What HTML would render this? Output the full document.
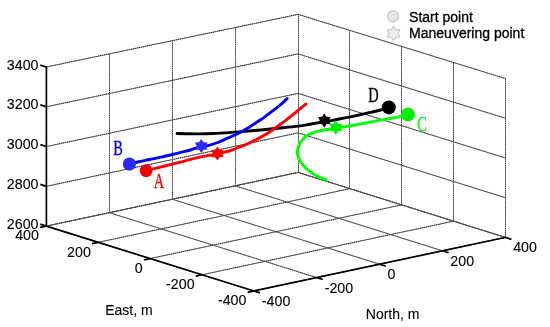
<!DOCTYPE html>
<html><head><meta charset="utf-8"><title>3D trajectories</title>
<style>html,body{margin:0;padding:0;background:#fff;}body{width:550px;height:327px;overflow:hidden;}svg{display:block;}</style>
</head><body>
<svg width="550" height="327" viewBox="0 0 550 327" font-family="Liberation Sans, Arial, sans-serif" font-size="15">
<rect width="550" height="327" fill="#fff"/>
<line x1="46.40" y1="226.10" x2="298.10" y2="172.40" stroke="#7a7a7a" stroke-width="0.9" fill="none"/>
<line x1="46.40" y1="226.10" x2="298.10" y2="172.40" stroke="#1e1e1e" stroke-width="0.9" stroke-dasharray="1.2 0.9" fill="none"/>
<line x1="46.40" y1="226.10" x2="253.90" y2="291.00" stroke="#7a7a7a" stroke-width="0.9" fill="none"/>
<line x1="46.40" y1="226.10" x2="253.90" y2="291.00" stroke="#1e1e1e" stroke-width="0.9" stroke-dasharray="1.2 0.9" fill="none"/>
<line x1="98.28" y1="242.32" x2="349.90" y2="188.65" stroke="#7a7a7a" stroke-width="0.9" fill="none"/>
<line x1="98.28" y1="242.32" x2="349.90" y2="188.65" stroke="#1e1e1e" stroke-width="0.9" stroke-dasharray="1.2 0.9" fill="none"/>
<line x1="109.33" y1="212.67" x2="316.75" y2="277.60" stroke="#7a7a7a" stroke-width="0.9" fill="none"/>
<line x1="109.33" y1="212.67" x2="316.75" y2="277.60" stroke="#1e1e1e" stroke-width="0.9" stroke-dasharray="1.2 0.9" fill="none"/>
<line x1="150.15" y1="258.55" x2="401.70" y2="204.90" stroke="#7a7a7a" stroke-width="0.9" fill="none"/>
<line x1="150.15" y1="258.55" x2="401.70" y2="204.90" stroke="#1e1e1e" stroke-width="0.9" stroke-dasharray="1.2 0.9" fill="none"/>
<line x1="172.25" y1="199.25" x2="379.60" y2="264.20" stroke="#7a7a7a" stroke-width="0.9" fill="none"/>
<line x1="172.25" y1="199.25" x2="379.60" y2="264.20" stroke="#1e1e1e" stroke-width="0.9" stroke-dasharray="1.2 0.9" fill="none"/>
<line x1="202.03" y1="274.77" x2="453.50" y2="221.15" stroke="#7a7a7a" stroke-width="0.9" fill="none"/>
<line x1="202.03" y1="274.77" x2="453.50" y2="221.15" stroke="#1e1e1e" stroke-width="0.9" stroke-dasharray="1.2 0.9" fill="none"/>
<line x1="235.18" y1="185.83" x2="442.45" y2="250.80" stroke="#7a7a7a" stroke-width="0.9" fill="none"/>
<line x1="235.18" y1="185.83" x2="442.45" y2="250.80" stroke="#1e1e1e" stroke-width="0.9" stroke-dasharray="1.2 0.9" fill="none"/>
<line x1="253.90" y1="291.00" x2="505.30" y2="237.40" stroke="#7a7a7a" stroke-width="0.9" fill="none"/>
<line x1="253.90" y1="291.00" x2="505.30" y2="237.40" stroke="#1e1e1e" stroke-width="0.9" stroke-dasharray="1.2 0.9" fill="none"/>
<line x1="298.10" y1="172.40" x2="505.30" y2="237.40" stroke="#7a7a7a" stroke-width="0.9" fill="none"/>
<line x1="298.10" y1="172.40" x2="505.30" y2="237.40" stroke="#1e1e1e" stroke-width="0.9" stroke-dasharray="1.2 0.9" fill="none"/>
<line x1="46.50" y1="226.10" x2="46.50" y2="67.00" stroke="#9a9a9a" stroke-width="1" fill="none"/>
<line x1="46.50" y1="226.10" x2="46.50" y2="67.00" stroke="#333" stroke-width="1" stroke-dasharray="1 1.1" fill="none"/>
<line x1="46.40" y1="226.10" x2="298.10" y2="172.40" stroke="#7a7a7a" stroke-width="0.9" fill="none"/>
<line x1="46.40" y1="226.10" x2="298.10" y2="172.40" stroke="#1e1e1e" stroke-width="0.9" stroke-dasharray="1.2 0.9" fill="none"/>
<line x1="109.50" y1="212.67" x2="109.50" y2="53.85" stroke="#9a9a9a" stroke-width="1" fill="none"/>
<line x1="109.50" y1="212.67" x2="109.50" y2="53.85" stroke="#333" stroke-width="1" stroke-dasharray="1 1.1" fill="none"/>
<line x1="46.40" y1="186.32" x2="298.10" y2="132.90" stroke="#7a7a7a" stroke-width="0.9" fill="none"/>
<line x1="46.40" y1="186.32" x2="298.10" y2="132.90" stroke="#1e1e1e" stroke-width="0.9" stroke-dasharray="1.2 0.9" fill="none"/>
<line x1="172.50" y1="199.25" x2="172.50" y2="40.70" stroke="#9a9a9a" stroke-width="1" fill="none"/>
<line x1="172.50" y1="199.25" x2="172.50" y2="40.70" stroke="#333" stroke-width="1" stroke-dasharray="1 1.1" fill="none"/>
<line x1="46.40" y1="146.55" x2="298.10" y2="93.40" stroke="#7a7a7a" stroke-width="0.9" fill="none"/>
<line x1="46.40" y1="146.55" x2="298.10" y2="93.40" stroke="#1e1e1e" stroke-width="0.9" stroke-dasharray="1.2 0.9" fill="none"/>
<line x1="235.50" y1="185.83" x2="235.50" y2="27.55" stroke="#9a9a9a" stroke-width="1" fill="none"/>
<line x1="235.50" y1="185.83" x2="235.50" y2="27.55" stroke="#333" stroke-width="1" stroke-dasharray="1 1.1" fill="none"/>
<line x1="46.40" y1="106.78" x2="298.10" y2="53.90" stroke="#7a7a7a" stroke-width="0.9" fill="none"/>
<line x1="46.40" y1="106.78" x2="298.10" y2="53.90" stroke="#1e1e1e" stroke-width="0.9" stroke-dasharray="1.2 0.9" fill="none"/>
<line x1="298.50" y1="172.40" x2="298.50" y2="14.40" stroke="#9a9a9a" stroke-width="1" fill="none"/>
<line x1="298.50" y1="172.40" x2="298.50" y2="14.40" stroke="#333" stroke-width="1" stroke-dasharray="1 1.1" fill="none"/>
<line x1="46.40" y1="67.00" x2="298.10" y2="14.40" stroke="#7a7a7a" stroke-width="0.9" fill="none"/>
<line x1="46.40" y1="67.00" x2="298.10" y2="14.40" stroke="#1e1e1e" stroke-width="0.9" stroke-dasharray="1.2 0.9" fill="none"/>
<line x1="298.50" y1="172.40" x2="298.50" y2="14.40" stroke="#9a9a9a" stroke-width="1" fill="none"/>
<line x1="298.50" y1="172.40" x2="298.50" y2="14.40" stroke="#333" stroke-width="1" stroke-dasharray="1 1.1" fill="none"/>
<line x1="298.10" y1="172.40" x2="505.30" y2="237.40" stroke="#7a7a7a" stroke-width="0.9" fill="none"/>
<line x1="298.10" y1="172.40" x2="505.30" y2="237.40" stroke="#1e1e1e" stroke-width="0.9" stroke-dasharray="1.2 0.9" fill="none"/>
<line x1="349.50" y1="188.65" x2="349.50" y2="30.43" stroke="#9a9a9a" stroke-width="1" fill="none"/>
<line x1="349.50" y1="188.65" x2="349.50" y2="30.43" stroke="#333" stroke-width="1" stroke-dasharray="1 1.1" fill="none"/>
<line x1="298.10" y1="132.90" x2="505.30" y2="197.68" stroke="#7a7a7a" stroke-width="0.9" fill="none"/>
<line x1="298.10" y1="132.90" x2="505.30" y2="197.68" stroke="#1e1e1e" stroke-width="0.9" stroke-dasharray="1.2 0.9" fill="none"/>
<line x1="401.50" y1="204.90" x2="401.50" y2="46.45" stroke="#9a9a9a" stroke-width="1" fill="none"/>
<line x1="401.50" y1="204.90" x2="401.50" y2="46.45" stroke="#333" stroke-width="1" stroke-dasharray="1 1.1" fill="none"/>
<line x1="298.10" y1="93.40" x2="505.30" y2="157.95" stroke="#7a7a7a" stroke-width="0.9" fill="none"/>
<line x1="298.10" y1="93.40" x2="505.30" y2="157.95" stroke="#1e1e1e" stroke-width="0.9" stroke-dasharray="1.2 0.9" fill="none"/>
<line x1="453.50" y1="221.15" x2="453.50" y2="62.48" stroke="#9a9a9a" stroke-width="1" fill="none"/>
<line x1="453.50" y1="221.15" x2="453.50" y2="62.48" stroke="#333" stroke-width="1" stroke-dasharray="1 1.1" fill="none"/>
<line x1="298.10" y1="53.90" x2="505.30" y2="118.22" stroke="#7a7a7a" stroke-width="0.9" fill="none"/>
<line x1="298.10" y1="53.90" x2="505.30" y2="118.22" stroke="#1e1e1e" stroke-width="0.9" stroke-dasharray="1.2 0.9" fill="none"/>
<line x1="505.50" y1="237.40" x2="505.50" y2="78.50" stroke="#9a9a9a" stroke-width="1" fill="none"/>
<line x1="505.50" y1="237.40" x2="505.50" y2="78.50" stroke="#333" stroke-width="1" stroke-dasharray="1 1.1" fill="none"/>
<line x1="298.10" y1="14.40" x2="505.30" y2="78.50" stroke="#7a7a7a" stroke-width="0.9" fill="none"/>
<line x1="298.10" y1="14.40" x2="505.30" y2="78.50" stroke="#1e1e1e" stroke-width="0.9" stroke-dasharray="1.2 0.9" fill="none"/>
<line x1="46.40" y1="226.10" x2="46.40" y2="67.00" stroke="#000" stroke-width="1.7" fill="none" stroke-linecap="square"/>
<line x1="46.40" y1="226.10" x2="253.90" y2="291.00" stroke="#000" stroke-width="1.7" fill="none" stroke-linecap="square"/>
<line x1="253.90" y1="291.00" x2="505.30" y2="237.40" stroke="#000" stroke-width="1.7" fill="none" stroke-linecap="square"/>
<line x1="46.40" y1="226.10" x2="40.29" y2="224.18" stroke="#000" stroke-width="1.7"/>
<line x1="46.40" y1="186.32" x2="40.29" y2="184.41" stroke="#000" stroke-width="1.7"/>
<line x1="46.40" y1="146.55" x2="40.29" y2="144.63" stroke="#000" stroke-width="1.7"/>
<line x1="46.40" y1="106.78" x2="40.29" y2="104.86" stroke="#000" stroke-width="1.7"/>
<line x1="46.40" y1="67.00" x2="40.29" y2="65.08" stroke="#000" stroke-width="1.7"/>
<line x1="46.40" y1="226.10" x2="40.14" y2="227.42" stroke="#000" stroke-width="1.7"/>
<line x1="98.28" y1="242.32" x2="92.01" y2="243.64" stroke="#000" stroke-width="1.7"/>
<line x1="150.15" y1="258.55" x2="143.89" y2="259.87" stroke="#000" stroke-width="1.7"/>
<line x1="202.03" y1="274.77" x2="195.76" y2="276.09" stroke="#000" stroke-width="1.7"/>
<line x1="253.90" y1="291.00" x2="247.64" y2="292.32" stroke="#000" stroke-width="1.7"/>
<line x1="253.90" y1="291.00" x2="260.01" y2="292.92" stroke="#000" stroke-width="1.7"/>
<line x1="316.75" y1="277.60" x2="322.86" y2="279.52" stroke="#000" stroke-width="1.7"/>
<line x1="379.60" y1="264.20" x2="385.71" y2="266.12" stroke="#000" stroke-width="1.7"/>
<line x1="442.45" y1="250.80" x2="448.56" y2="252.72" stroke="#000" stroke-width="1.7"/>
<line x1="505.30" y1="237.40" x2="511.41" y2="239.32" stroke="#000" stroke-width="1.7"/>
<path d="M177.10,133.50 C178.42,133.53 181.35,133.63 185.00,133.70 C188.65,133.77 194.28,133.93 199.00,133.90 C203.72,133.87 207.85,133.75 213.30,133.50 C218.75,133.25 226.42,132.75 231.70,132.40 C236.98,132.05 239.65,131.85 245.00,131.40 C250.35,130.95 258.38,130.22 263.80,129.70 C269.22,129.18 271.77,128.90 277.50,128.30 C283.23,127.70 292.78,126.78 298.20,126.10 C303.62,125.42 305.68,124.92 310.00,124.20 C314.32,123.48 319.63,122.58 324.10,121.80 C328.57,121.02 332.02,120.40 336.80,119.50 C341.58,118.60 347.95,117.43 352.80,116.40 C357.65,115.37 361.90,114.20 365.90,113.30 C369.90,112.40 372.98,111.95 376.80,111.00 C380.62,110.05 386.80,108.17 388.80,107.60" stroke="#000" stroke-width="2.9" fill="none" stroke-linecap="round" stroke-linejoin="round"/>
<path d="M407.90,114.60 C406.35,114.97 401.97,116.08 398.60,116.80 C395.23,117.52 391.33,118.22 387.70,118.90 C384.07,119.58 380.43,120.22 376.80,120.90 C373.17,121.58 369.53,122.32 365.90,123.00 C362.27,123.68 358.07,124.43 355.00,125.00 C351.93,125.57 350.72,125.85 347.50,126.40 C344.28,126.95 340.28,127.57 335.70,128.30 C331.12,129.03 324.45,129.80 320.00,130.80 C315.55,131.80 312.12,132.60 309.00,134.30 C305.88,136.00 303.08,138.88 301.30,141.00 C299.52,143.12 298.97,145.20 298.30,147.00 C297.63,148.80 297.27,149.97 297.30,151.80 C297.33,153.63 297.58,155.80 298.50,158.00 C299.42,160.20 300.95,162.78 302.80,165.00 C304.65,167.22 306.97,169.32 309.60,171.30 C312.23,173.28 315.82,175.42 318.60,176.90 C321.38,178.38 325.02,179.65 326.30,180.20" stroke="#00ff00" stroke-width="2.9" fill="none" stroke-linecap="round" stroke-linejoin="round"/>
<path d="M146.00,170.60 C148.05,170.10 153.95,168.67 158.30,167.60 C162.65,166.53 167.65,165.33 172.10,164.20 C176.55,163.07 180.55,161.95 185.00,160.80 C189.45,159.65 193.42,158.47 198.80,157.30 C204.18,156.13 212.72,154.73 217.30,153.80 C221.88,152.87 223.85,152.30 226.30,151.70 C228.75,151.10 230.05,150.90 232.00,150.20 C233.95,149.50 236.00,148.28 238.00,147.50 C240.00,146.72 242.00,146.32 244.00,145.50 C246.00,144.68 248.00,143.55 250.00,142.60 C252.00,141.65 254.00,140.82 256.00,139.80 C258.00,138.78 260.00,137.65 262.00,136.50 C264.00,135.35 266.00,134.15 268.00,132.90 C270.00,131.65 272.00,130.40 274.00,129.00 C276.00,127.60 278.00,125.98 280.00,124.50 C282.00,123.02 283.22,122.25 286.00,120.10 C288.78,117.95 293.70,114.02 296.70,111.60 C299.70,109.18 302.45,106.85 304.00,105.60 C305.55,104.35 305.67,104.35 306.00,104.10" stroke="#ff0000" stroke-width="2.9" fill="none" stroke-linecap="round" stroke-linejoin="round"/>
<path d="M129.40,164.00 C130.78,163.67 135.05,162.62 137.70,162.00 C140.35,161.38 142.75,160.83 145.30,160.30 C147.85,159.77 150.45,159.32 153.00,158.80 C155.55,158.28 158.05,157.75 160.60,157.20 C163.15,156.65 165.08,156.27 168.30,155.50 C171.52,154.73 176.20,153.52 179.90,152.60 C183.60,151.68 186.93,151.03 190.50,150.00 C194.07,148.97 198.25,147.18 201.30,146.40 C204.35,145.62 206.03,145.95 208.80,145.30 C211.57,144.65 214.85,143.65 217.90,142.50 C220.95,141.35 224.18,139.68 227.10,138.40 C230.02,137.12 232.23,136.37 235.40,134.80 C238.57,133.23 243.67,130.35 246.10,129.00 C248.53,127.65 248.47,127.67 250.00,126.70 C251.53,125.73 253.52,124.35 255.30,123.20 C257.08,122.05 258.92,121.02 260.70,119.80 C262.48,118.58 264.22,117.23 266.00,115.90 C267.78,114.57 269.62,113.15 271.40,111.80 C273.18,110.45 274.92,109.20 276.70,107.80 C278.48,106.40 280.35,104.95 282.10,103.40 C283.85,101.85 286.35,99.32 287.20,98.50" stroke="#0000ff" stroke-width="2.9" fill="none" stroke-linecap="round" stroke-linejoin="round"/>
<polygon points="201.30,139.10 203.56,142.34 207.62,142.60 205.83,146.10 207.62,149.60 203.56,149.86 201.30,153.10 199.04,149.86 194.98,149.60 196.77,146.10 194.98,142.60 199.04,142.34" fill="#2a2aff"/>
<polygon points="217.40,146.60 219.66,149.84 223.72,150.10 221.93,153.60 223.72,157.10 219.66,157.36 217.40,160.60 215.14,157.36 211.08,157.10 212.87,153.60 211.08,150.10 215.14,149.84" fill="#ff0000"/>
<polygon points="324.30,113.50 326.56,116.74 330.62,117.00 328.83,120.50 330.62,124.00 326.56,124.26 324.30,127.50 322.04,124.26 317.98,124.00 319.77,120.50 317.98,117.00 322.04,116.74" fill="#000"/>
<polygon points="335.80,120.50 338.06,123.74 342.12,124.00 340.33,127.50 342.12,131.00 338.06,131.26 335.80,134.50 333.54,131.26 329.48,131.00 331.27,127.50 329.48,124.00 333.54,123.74" fill="#00ee00"/>
<circle cx="129.4" cy="164.0" r="6.6" fill="#2a2af6"/>
<circle cx="146.1" cy="170.6" r="6.4" fill="#f00000"/>
<circle cx="388.8" cy="107.4" r="7.0" fill="#000"/>
<circle cx="408.0" cy="114.4" r="6.8" fill="#00ee00"/>
<g fill="#000" stroke="#000" stroke-width="0.1">
<text transform="translate(38.49,228.78) scale(0.95,1)" text-anchor="end">2600</text>
<text transform="translate(38.49,189.01) scale(0.95,1)" text-anchor="end">2800</text>
<text transform="translate(38.49,149.23) scale(0.95,1)" text-anchor="end">3000</text>
<text transform="translate(38.49,109.46) scale(0.95,1)" text-anchor="end">3200</text>
<text transform="translate(38.49,69.68) scale(0.95,1)" text-anchor="end">3400</text>
<text transform="translate(38.94,240.32) scale(0.95,1)" text-anchor="end">400</text>
<text transform="translate(90.81,256.54) scale(0.95,1)" text-anchor="end">200</text>
<text transform="translate(142.69,272.77) scale(0.95,1)" text-anchor="end">0</text>
<text transform="translate(194.56,288.99) scale(0.95,1)" text-anchor="end">-200</text>
<text transform="translate(246.44,305.22) scale(0.95,1)" text-anchor="end">-400</text>
<text transform="translate(261.81,306.02) scale(0.95,1)" text-anchor="start">-400</text>
<text transform="translate(324.66,292.62) scale(0.95,1)" text-anchor="start">-200</text>
<text transform="translate(387.51,279.22) scale(0.95,1)" text-anchor="start">0</text>
<text transform="translate(450.36,265.82) scale(0.95,1)" text-anchor="start">200</text>
<text transform="translate(513.21,252.42) scale(0.95,1)" text-anchor="start">400</text>
<text x="105.2" y="315.1" font-size="14">East, m</text>
<text x="365.8" y="318.9" font-size="14">North, m</text>
</g>
<text transform="translate(113.2,154.7) scale(0.72,1)" font-family="Liberation Serif, serif" font-size="20" stroke-width="0.35" fill="#0000ff" stroke="#0000ff">B</text>
<text transform="translate(153.7,188.3) scale(0.72,1)" font-family="Liberation Serif, serif" font-size="20" stroke-width="0.35" fill="#ff0000" stroke="#ff0000">A</text>
<text transform="translate(368.2,101.6) scale(0.72,1)" font-family="Liberation Serif, serif" font-size="20" stroke-width="0.35" fill="#000" stroke="#000">D</text>
<text transform="translate(417.3,131.0) scale(0.72,1)" font-family="Liberation Serif, serif" font-size="20" stroke-width="0.35" fill="#00ff00" stroke="#00ff00">C</text>
<circle cx="393.1" cy="16.3" r="5.6" fill="#e6e6e6" stroke="#b4b4b4" stroke-width="0.9"/>
<polygon points="393.50,26.30 395.86,29.63 400.08,29.90 398.21,33.50 400.08,37.10 395.86,37.37 393.50,40.70 391.14,37.37 386.92,37.10 388.79,33.50 386.92,29.90 391.14,29.63" fill="#ececec" stroke="#b8b8b8" stroke-width="0.9"/>
<text x="409.1" y="21.8" font-size="14" fill="#000" stroke="#000" stroke-width="0.3">Start point</text>
<text x="409.1" y="38.3" font-size="14" fill="#000" stroke="#000" stroke-width="0.3">Maneuvering point</text>
</svg>
</body></html>
